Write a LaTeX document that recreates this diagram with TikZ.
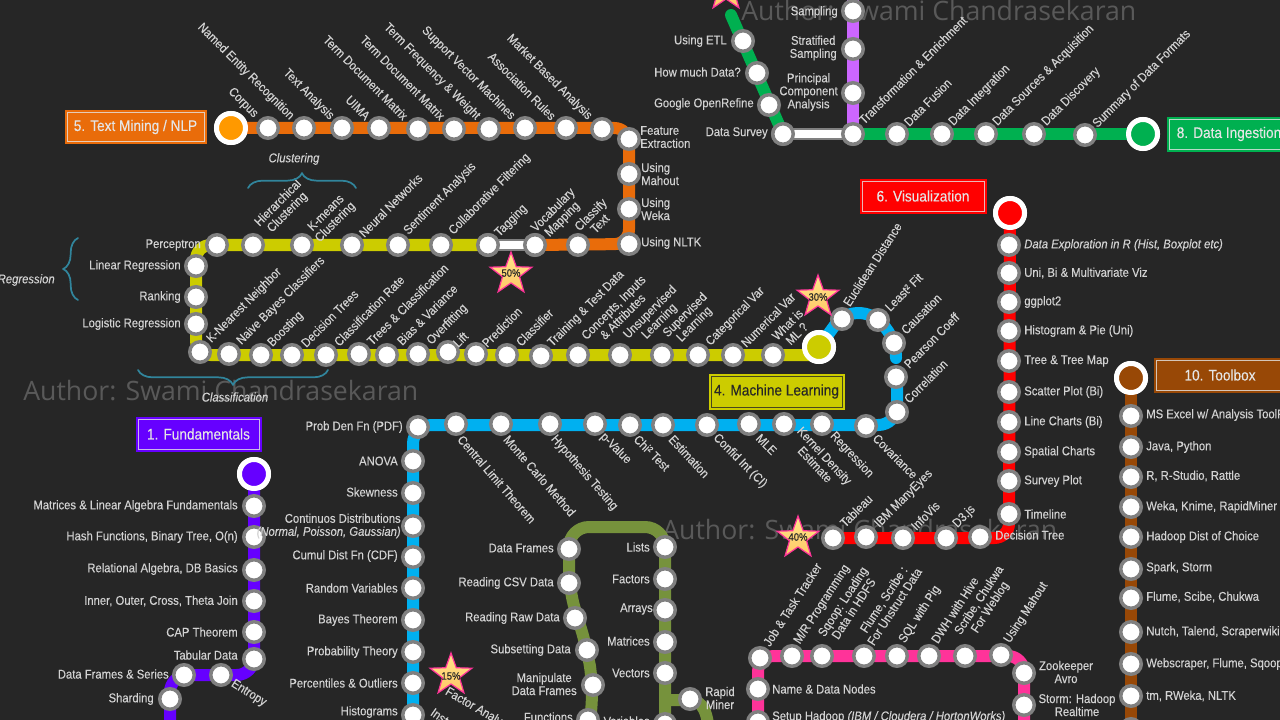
\documentclass[tikz,border=0pt]{standalone}
\usepackage{fontspec}
\setmainfont[FakeStretch=0.89,FakeBold=0.25]{Liberation Sans}
\newfontfamily\wmfont{Open Sans}
\usetikzlibrary{shapes.geometric,decorations.pathreplacing,calc}
\definecolor{bg}{HTML}{262626}
\definecolor{cOrange}{HTML}{E96C0A}
\definecolor{cOrangeT}{HTML}{FF9900}
\definecolor{cYellow}{HTML}{CCCC00}
\definecolor{cBlue}{HTML}{00B0F0}
\definecolor{cRed}{HTML}{FF0000}
\definecolor{cPurple}{HTML}{6600FF}
\definecolor{cLilac}{HTML}{CC66FF}
\definecolor{cGreen}{HTML}{00B050}
\definecolor{cOlive}{HTML}{76923C}
\definecolor{cPink}{HTML}{FF3399}
\definecolor{cBrown}{HTML}{984806}
\definecolor{cBrace}{HTML}{31859C}
\definecolor{cText}{HTML}{D2D2D2}
\definecolor{cStarA}{HTML}{FFE58A}
\definecolor{cStarB}{HTML}{FFC766}
\tikzset{
  stn/.style={circle,fill=white,draw=black!50,line width=2.6pt,minimum size=15.4pt,inner sep=0pt},
  term/.style={circle,fill=#1,draw=white,line width=3.75pt,minimum size=21.75pt,inner sep=0pt},
  trk/.style={draw=#1,line width=9pt,rounded corners=11pt},
  lab/.style={text=cText,inner sep=0pt,align=center,font=\fontsize{9.5}{9.75}\selectfont},
  boxn/.style={fill=#1,draw=#1,line width=.5pt,inner sep=0pt,font=\fontsize{11.5}{13}\selectfont},
  wm/.style={text=black!65,inner sep=0pt,font=\wmfont\fontsize{20}{24}\selectfont},
  starn/.style={star,star points=5,star point ratio=2.45,minimum size=33pt,inner sep=0pt,draw=cPink,line width=.9pt,top color=cStarA,bottom color=cStarB},
  startxt/.style={text=black!85,inner sep=0pt,font=\fontsize{8}{8}\selectfont},
  brc/.style={draw=cBrace,line width=1.3pt,line cap=round,decorate,decoration={brace,amplitude=11pt}},
  link/.style={line width=#1,line cap=round}
}
\newcommand{\st}[3]{\node[stn] (#1) at (#2,#3) {};}
\newcommand{\tm}[4]{\node[term=#4] (#1) at (#2,#3) {};}
\newcommand{\lb}[7][]{\node[lab,rotate=#5,anchor=#6,#1] (#2) at (#3,#4) {#7};}
\newcommand{\bx}[8]{%
  \node[boxn=#6,text=#7,minimum width=#4*.75pt,minimum height=#5*.75pt] (#1) at (#2,#3) {#8};
  \draw[#7,line width=.4pt,opacity=.8] ([shift={(2.5,-2.5)}]#1.south west) rectangle ([shift={(-2.5,2.5)}]#1.north east);}
\begin{document}
\begin{tikzpicture}[x=.75pt,y=-.75pt]
\useasboundingbox (0,0) rectangle (1280,720);
\fill[bg] (0,0) rectangle (1280,720);
\clip (0,0) rectangle (1280,720);
% watermarks
\node[wm,anchor=west] (w1) at (23,391) {Author: Swami Chandrasekaran};
\node[wm,anchor=west] (w2) at (741,11) {Author: Swami Chandrasekaran};
\node[wm,anchor=west] (w3) at (662,530) {Author: Swami Chandrasekaran};
% termini
\tm{tO}{231}{128}{cOrangeT}
\tm{tG}{1143}{134}{cGreen}
\tm{tR}{1010}{213}{cRed}
\tm{tM}{819}{347}{cYellow}
\tm{tB}{1131}{378}{cBrown}
\tm{tP}{254}{474}{cPurple}
% free track coordinates
\coordinate (oA) at (629,128);
\coordinate (oB) at (629,244);
\coordinate (yA) at (196,245);
\coordinate (yB) at (196,355);
\coordinate (yC) at (819,355);
\coordinate (yD) at (488,245);
\coordinate (bE) at (896,358);
\coordinate (bS) at (897,367);
\coordinate (bA) at (897,425);
\coordinate (bB) at (413,425);
\coordinate (bC) at (413,740);
\coordinate (rA) at (1009,538);
\coordinate (rB) at (833,538);
\coordinate (pA) at (254,675);
\coordinate (pB) at (170,675);
\coordinate (pC) at (170,740);
\coordinate (gA) at (731,15);
\coordinate (lA) at (853,-10);
\coordinate (nA) at (758,656);
\coordinate (nB) at (1024,656);
\coordinate (nC) at (1024,740);
\coordinate (nD) at (758,740);
\coordinate (uA) at (569,527);
\coordinate (uB) at (665,527);
\coordinate (uC) at (665,740);
\coordinate (uD) at (569,590);
\coordinate (uE) at (587,648);
\coordinate (uF) at (593,685);
\coordinate (uG) at (589,740);
\coordinate (uH) at (665,700);
\coordinate (uI) at (690,700);
\coordinate (uJ) at (709,740);
\coordinate (kA) at (1131,740);
% stations needed by the tracks
\st{gI}{783}{134}
\st{gT}{853}{134}
\st{yV}{535}{245}
\st{yT}{488}{245}
% tracks
\draw[trk=cLilac] (lA) -- (gT.center);
\path[trk=cGreen,line cap=round] (gA) -- (gI.center);
\draw[trk=cGreen] (gT.center) -- (tG.center);
\draw[trk=cOrange] (tO.center) -- (oA) -- (oB) -- (yV.center);
\draw[trk=cYellow] (yC) -- (yB) -- (yA) -- (yD);
\draw[trk=cRed] (tR.center) -- (rA) -- (rB);
\draw[trk=cPurple,rounded corners=13pt] (tP.center) -- (pA) -- (pB) -- (pC);
\draw[trk=cBrown] (tB.center) -- (kA);
\draw[trk=cPink,rounded corners=12pt] (nD) -- (nA) -- (nB) -- (nC);
\draw[trk=cOlive,rounded corners=15pt] (uC) -- (uB) -- (uA) -- (uD) -- (uE) -- (uF) -- (uG);
\draw[draw=cOlive,line width=9pt] (uH) -- (uI) .. controls (702,700) and (709,712) .. (uJ);
\draw[draw=cBlue,line width=9pt,line cap=round] (tM.center) -- (835,325) .. controls (846,310) and (866,310) .. (878,320) .. controls (888,328) and (896,342) .. (bE);
\draw[trk=cBlue,rounded corners=14pt] (bS) -- (bA) -- (bB) -- (bC);
\draw[link=9pt,draw=black!50] (gI.center) -- (gT.center);
\draw[link=5.5pt,draw=white] (gI.center) -- (gT.center);
\draw[link=9pt,draw=black!50] (yT.center) -- (yV.center);
\draw[link=5.5pt,draw=white] (yT.center) -- (yV.center);
% redraw termini above tracks
\tm{tO}{231}{128}{cOrangeT}
\tm{tG}{1143}{134}{cGreen}
\tm{tR}{1010}{213}{cRed}
\tm{tM}{819}{347}{cYellow}
\tm{tB}{1131}{378}{cBrown}
\tm{tP}{254}{474}{cPurple}
% stations: ingestion
\st{gI}{783}{134}\st{gT}{853}{134}
\st{g1}{743}{41}\st{g2}{757}{73}\st{g3}{769}{105}
\st{l1}{853}{11}\st{l2}{853}{49}\st{l3}{853}{93}
\st{g4}{897}{134}\st{g5}{942}{134}\st{g6}{986}{134}\st{g7}{1034}{134}\st{g8}{1085}{135}
% stations: orange
\st{o1}{268}{128}\st{o2}{304}{128}\st{o3}{342}{128}\st{o4}{379}{128}\st{o5}{418}{129}
\st{o6}{454}{129}\st{o7}{489}{129}\st{o8}{525}{128}\st{o9}{566}{128}\st{o10}{602}{129}
\st{o11}{629}{139}\st{o12}{629}{174}\st{o13}{629}{209}\st{o14}{629}{244}\st{o15}{578}{245}
% stations: yellow
\st{yT}{488}{245}\st{yV}{535}{245}
\st{y1}{217}{245}\st{y2}{253}{245}\st{y3}{302}{245}\st{y4}{352}{245}\st{y5}{398}{245}\st{y6}{441}{245}
\st{y7}{196}{266}\st{y8}{196}{297}\st{y9}{196}{324}\st{y10}{200}{352}
\st{y11}{229}{354}\st{y12}{261}{355}\st{y13}{292}{355}\st{y14}{326}{355}\st{y15}{359}{354}
\st{y16}{387}{355}\st{y17}{418}{354}\st{y18}{448}{352}\st{y19}{476}{354}\st{y20}{507}{355}
\st{y21}{541}{356}\st{y22}{578}{355}\st{y23}{620}{355}\st{y24}{662}{355}\st{y25}{698}{355}
\st{y26}{733}{355}\st{y27}{773}{355}
% stations: blue
\st{b1}{842}{319}\st{b2}{878}{320}\st{b3}{894}{343}\st{b4}{896}{377}\st{b5}{897}{412}
\st{b6}{866}{426}\st{b7}{822}{424}\st{b8}{784}{424}\st{b9}{749}{424}\st{b10}{707}{425}
\st{b11}{663}{425}\st{b12}{630}{425}\st{b13}{595}{424}\st{b14}{550}{424}\st{b15}{501}{424}
\st{b16}{456}{424}\st{b17}{418}{427}
\st{b18}{413}{461}\st{b19}{413}{493}\st{b20}{413}{526}\st{b21}{413}{557}\st{b22}{413}{588}
\st{b23}{413}{620}\st{b24}{413}{652}\st{b25}{413}{683}\st{b26}{413}{715}
% stations: red
\st{r1}{1009}{245}\st{r2}{1009}{273}\st{r3}{1009}{302}\st{r4}{1009}{331}\st{r5}{1009}{361}
\st{r6}{1009}{392}\st{r7}{1009}{422}\st{r8}{1009}{452}\st{r9}{1009}{481}\st{r10}{1009}{514}
\st{r11}{980}{537}\st{r12}{946}{538}\st{r13}{903}{538}\st{r14}{866}{537}\st{r15}{833}{538}
% stations: brown
\st{k1}{1131}{416}\st{k2}{1131}{447}\st{k3}{1131}{477}\st{k4}{1131}{507}\st{k5}{1131}{537}
\st{k6}{1131}{569}\st{k7}{1131}{598}\st{k8}{1131}{632}\st{k9}{1131}{664}\st{k10}{1131}{696}\st{k11}{1131}{729}
% stations: purple
\st{p1}{254}{506}\st{p2}{254}{537}\st{p3}{254}{570}\st{p4}{254}{601}\st{p5}{254}{632}\st{p6}{254}{659}
\st{p7}{221}{675}\st{p8}{184}{675}\st{p9}{170}{699}
% stations: olive
\st{u1}{569}{549}\st{u2}{569}{583}\st{u3}{575}{618}\st{u4}{587}{650}\st{u5}{593}{685}\st{u6}{588}{720}
\st{u7}{665}{547}\st{u8}{665}{579}\st{u9}{665}{610}\st{u10}{665}{642}\st{u11}{665}{673}\st{u12}{665}{724}\st{u13}{690}{699}
% stations: pink
\st{n1}{760}{658}\st{n2}{792}{656}\st{n3}{822}{656}\st{n4}{864}{656}\st{n5}{897}{656}\st{n6}{929}{656}
\st{n7}{965}{656}\st{n8}{1001}{655}\st{n9}{1024}{673}\st{n10}{1024}{705}\st{n11}{758}{689}\st{n12}{758}{722}
% stars
\node[starn] (s50) at (511,274) {};
\node[starn] (s30) at (818,297) {};
\node[starn] (s40) at (798,538) {};
\node[starn] (s15) at (451,675) {};
\node[starn] (s00) at (726,-10) {};
\node[startxt] (x50) at (511,273) {50\%};
\node[startxt] (x30) at (818,297) {30\%};
\node[startxt] (x40) at (798,537) {40\%};
\node[startxt] (x15) at (451,676) {15\%};
% boxes
\bx{B5}{135.5}{127}{141}{33}{cOrange}{white!90!black}{5. Text Mining / NLP}
\bx{B8}{1229}{134}{124}{34}{cGreen}{white!90!black}{8. Data Ingestion}
\bx{B6}{923}{196}{126}{34}{cRed}{white!90!black}{6. Visualization}
\bx{B1}{198.5}{434}{125}{34}{cPurple}{white!90!black}{1. Fundamentals}
\bx{B4}{776.5}{391.5}{135}{35}{cYellow}{black!85}{4. Machine Learning}
\bx{B10}{1220}{375}{132}{34}{cBrown}{white!90!black}{10. Toolbox}
% orange labels
\lb{l01}{256}{116}{-45}{east}{Corpus}
\lb{l02}{292}{118}{-45}{east}{Named Entity Recognition}
\lb{l03}{332}{118}{-45}{east}{Text Analysis}
\lb{l04}{368}{118}{-45}{east}{UIMA}
\lb{l05}{406}{118}{-45}{east}{Term Document Matrix}
\lb{l06}{443}{118}{-45}{east}{Term Document Matrix}
\lb{l07}{478}{118}{-45}{east}{Term Frequency \& Weight}
\lb{l08}{513}{118}{-45}{east}{Support Vector Machines}
\lb{l09}{554}{118}{-45}{east}{Association Rules}
\lb{l10}{590}{118}{-45}{east}{Market Based Analysis}
\lb[align=left]{l11}{640}{137}{0}{west}{Feature\\Extraction}
\lb[align=left]{l12}{641}{174}{0}{west}{Using\\Mahout}
\lb[align=left]{l13}{641}{209}{0}{west}{Using\\Weka}
\lb{l14}{641}{243}{0}{west}{Using NLTK}
% yellow upper labels
\lb{l15}{283}{208}{45}{center}{Hierarchical\\Clustering}
\lb{l16}{331}{218}{45}{center}{K-means\\Clustering}
\lb{l17}{361}{235}{45}{west}{Neural Networks}
\lb{l18}{406}{233}{45}{west}{Sentiment Analysis}
\lb{l19}{451}{233}{45}{west}{Collaborative Filtering}
\lb{l20}{497}{235}{45}{west}{Tagging}
\lb{l21}{558}{215}{45}{center}{Vocabulary\\Mapping}
\lb{l22}{595}{219}{45}{center}{Classify\\Text}
\lb{l23}{201}{245}{0}{east}{Perceptron}
\lb{l24}{181}{266}{0}{east}{Linear Regression}
\lb{l25}{181}{297}{0}{east}{Ranking}
\lb{l26}{181}{324}{0}{east}{Logistic Regression}
% yellow lower labels
\lb{l27}{209}{341}{45}{west}{K-Nearest Neighbor}
\lb{l28}{239}{343}{45}{west}{Naive Bayes Classifiers}
\lb{l29}{270}{345}{45}{west}{Boosting}
\lb{l30}{303}{345}{45}{west}{Decision Trees}
\lb{l31}{336}{344}{45}{west}{Classification Rate}
\lb{l32}{369}{343}{45}{west}{Trees \& Classification}
\lb{l33}{399}{343}{45}{west}{Bias \& Variance}
\lb{l34}{429}{343}{45}{west}{Overfitting}
\lb{l35}{455}{345}{45}{west}{Lift}
\lb{l36}{484}{345}{45}{west}{Prediction}
\lb{l37}{518}{344}{45}{west}{Classifier}
\lb{l38}{550}{345}{45}{west}{Training \& Test Data}
\lb{l39}{618}{312}{45}{center}{Concepts, Inputs\\\& Attributes}
\lb{l40}{655}{317}{45}{center}{Unsupervised\\Learning}
\lb{l41}{690}{320}{45}{center}{Supervised\\Learning}
\lb{l42}{708}{344}{45}{west}{Categorical Var}
\lb{l43}{743}{345}{45}{west}{Numerical Var}
\lb{l44}{792}{329}{45}{center}{What is\\ML ?}
% blue labels
\lb{l45}{846}{305}{57}{west}{Euclidean Distance}
\lb{l46}{887}{309}{45}{west}{Least² Fit}
\lb{l47}{903}{332}{45}{west}{Causation}
\lb{l48}{906}{366}{45}{west}{Pearson Coeff}
\lb{l49}{906}{401}{45}{west}{Correlation}
\lb{l50}{460}{437}{-49}{west}{Central Limit Theorem}
\lb{l51}{506}{437}{-49}{west}{Monte Carlo Method}
\lb{l52}{553}{437}{-49}{west}{Hypothesis Testing}
\lb{l53}{602}{435}{-45}{west}{p-Value}
\lb{l54}{636}{437}{-45}{west}{Chi² Test}
\lb{l55}{671}{437}{-47}{west}{Estimation}
\lb{l56}{715}{436}{-45}{west}{Confid Int (CI)}
\lb{l57}{758}{436}{-45}{west}{MLE}
\lb{l58}{820}{460}{-47}{center}{Kernel Density\\Estimate}
\lb{l59}{832}{434}{-47}{west}{Regression}
\lb{l60}{875}{436}{-45}{west}{Covariance}
\lb{l61}{403}{427}{0}{east}{Prob Den Fn (PDF)}
\lb{l62}{398}{461}{0}{east}{ANOVA}
\lb{l63}{398}{492}{0}{east}{Skewness}
\lb[align=right]{l64}{401}{526}{0}{east}{Continuos Distributions\\\textit{(Normal, Poisson, Gaussian)}}
\lb{l65}{398}{556}{0}{east}{Cumul Dist Fn (CDF)}
\lb{l66}{398}{588}{0}{east}{Random Variables}
\lb{l67}{398}{620}{0}{east}{Bayes Theorem}
\lb{l68}{398}{652}{0}{east}{Probability Theory}
\lb{l69}{398}{683}{0}{east}{Percentiles \& Outliers}
\lb{l70}{398}{712}{0}{east}{Histograms}
\lb{l71}{446}{691}{-30}{west}{Factor Analysis}
\lb{l72}{432}{711}{-35}{west}{Instance}
% red labels
\lb{l73}{1024}{245}{0}{west}{\textit{Data Exploration in R (Hist, Boxplot etc)}}
\lb{l74}{1024}{273}{0}{west}{Uni, Bi \& Multivariate Viz}
\lb{l75}{1024}{302}{0}{west}{ggplot2}
\lb{l76}{1024}{331}{0}{west}{Histogram \& Pie (Uni)}
\lb{l77}{1024}{361}{0}{west}{Tree \& Tree Map}
\lb{l78}{1024}{392}{0}{west}{Scatter Plot (Bi)}
\lb{l79}{1024}{422}{0}{west}{Line Charts (Bi)}
\lb{l80}{1024}{452}{0}{west}{Spatial Charts}
\lb{l81}{1024}{481}{0}{west}{Survey Plot}
\lb{l82}{1024}{514}{0}{west}{Timeline}
\lb{l83}{995}{535}{0}{west}{Decision Tree}
\lb{l84}{842}{525}{45}{west}{Tableau}
\lb{l85}{877}{526}{45}{west}{IBM ManyEyes}
\lb{l86}{913}{528}{45}{west}{InfoVis}
\lb{l87}{955}{526}{45}{west}{D3.js}
% brown labels
\lb{l88}{1146}{415}{0}{west}{MS Excel w/ Analysis ToolPak}
\lb{l89}{1146}{447}{0}{west}{Java, Python}
\lb{l90}{1146}{476}{0}{west}{R, R-Studio, Rattle}
\lb{l91}{1146}{507}{0}{west}{Weka, Knime, RapidMiner}
\lb{l92}{1146}{537}{0}{west}{Hadoop Dist of Choice}
\lb{l93}{1146}{568}{0}{west}{Spark, Storm}
\lb{l94}{1146}{597}{0}{west}{Flume, Scibe, Chukwa}
\lb{l95}{1146}{632}{0}{west}{Nutch, Talend, Scraperwiki}
\lb{l96}{1146}{664}{0}{west}{Webscraper, Flume, Sqoop}
\lb{l97}{1146}{696}{0}{west}{tm, RWeka, NLTK}
% purple labels
\lb{l98}{238}{506}{0}{east}{Matrices \& Linear Algebra Fundamentals}
\lb{l99}{238}{537}{0}{east}{Hash Functions, Binary Tree, O(n)}
\lb{l100}{238}{569}{0}{east}{Relational Algebra, DB Basics}
\lb{l101}{238}{601}{0}{east}{Inner, Outer, Cross, Theta Join}
\lb{l102}{238}{632}{0}{east}{CAP Theorem}
\lb{l103}{238}{655}{0}{east}{Tabular Data}
\lb{l104}{169}{674}{0}{east}{Data Frames \& Series}
\lb{l105}{154}{699}{0}{east}{Sharding}
\lb{l106}{232}{683}{-32}{west}{Entropy}
% olive labels
\lb{l107}{554}{548}{0}{east}{Data Frames}
\lb{l108}{554}{583}{0}{east}{Reading CSV Data}
\lb{l109}{560}{618}{0}{east}{Reading Raw Data}
\lb{l110}{571}{650}{0}{east}{Subsetting Data}
\lb{l111}{577}{684}{0}{east}{Manipulate\\Data Frames}
\lb{l112}{573}{717}{0}{east}{Functions}
\lb{l113}{650}{547}{0}{east}{Lists}
\lb{l114}{650}{579}{0}{east}{Factors}
\lb{l115}{653}{609}{0}{east}{Arrays}
\lb{l116}{650}{641}{0}{east}{Matrices}
\lb{l117}{650}{673}{0}{east}{Vectors}
\lb{l118}{650}{721}{0}{east}{Variables}
\lb{l119}{720}{698}{0}{center}{Rapid\\Miner}
% pink labels
\lb{l120}{766}{645}{57}{west}{Job \& Task Tracker}
\lb{l121}{797}{643}{57}{west}{M/R Programming}
\lb{l122}{848}{605}{57}{center}{Sqoop: Loading\\Data in HDFS}
\lb{l123}{889}{603}{57}{center}{Flume, Scribe :\\For Unstruct Data}
\lb{l124}{902}{642}{57}{west}{SQL with Pig}
\lb{l125}{934}{642}{57}{west}{DWH with Hive}
\lb{l126}{985}{604}{57}{center}{Scribe, Chukwa\\For Weblog}
\lb{l127}{1007}{642}{57}{west}{Using Mahout}
\lb{l128}{1066}{672}{0}{center}{Zookeeper\\Avro}
\lb{l129}{1077}{705}{0}{center}{Storm: Hadoop\\Realtime}
\lb{l130}{772}{689}{0}{west}{Name \& Data Nodes}
\lb{l131}{772}{717}{0}{west}{Setup Hadoop \textit{(IBM / Cloudera / HortonWorks)}}
% green labels
\lb{l132}{861}{122}{45}{west}{Transformation \& Enrichment}
\lb{l133}{906}{124}{45}{west}{Data Fusion}
\lb{l134}{951}{124}{45}{west}{Data Integration}
\lb{l135}{995}{124}{45}{west}{Data Sources \& Acquisition}
\lb{l136}{1044}{124}{45}{west}{Data Discovery}
\lb{l137}{1095}{126}{45}{west}{Summary of Data Formats}
\lb{l138}{727}{41}{0}{east}{Using ETL}
\lb{l139}{741}{72}{0}{east}{How much Data?}
\lb{l140}{754}{104}{0}{east}{Google OpenRefine}
\lb{l141}{768}{133}{0}{east}{Data Survey}
\lb{l142}{838}{12}{0}{east}{Sampling}
\lb{l143}{837}{48}{0}{east}{Stratified\\Sampling}
\lb{l144}{838}{92}{0}{east}{Principal\\Component\\Analysis}
% groups
\lb{l145}{294}{159}{0}{center}{\textit{Clustering}}
\lb{l146}{55}{280}{0}{east}{\textit{Regression}}
\lb{l147}{235}{397}{0}{center}{\textit{Classification}}
\coordinate (c1) at (248,188); \coordinate (c2) at (356,188);
\coordinate (d1) at (78,300); \coordinate (d2) at (78,238);
\coordinate (e1) at (328,370); \coordinate (e2) at (138,370);
\draw[brc] (c1) -- (c2);
\draw[brc] (d1) -- (d2);
\draw[brc] (e1) -- (e2);
\end{tikzpicture}
\end{document}
